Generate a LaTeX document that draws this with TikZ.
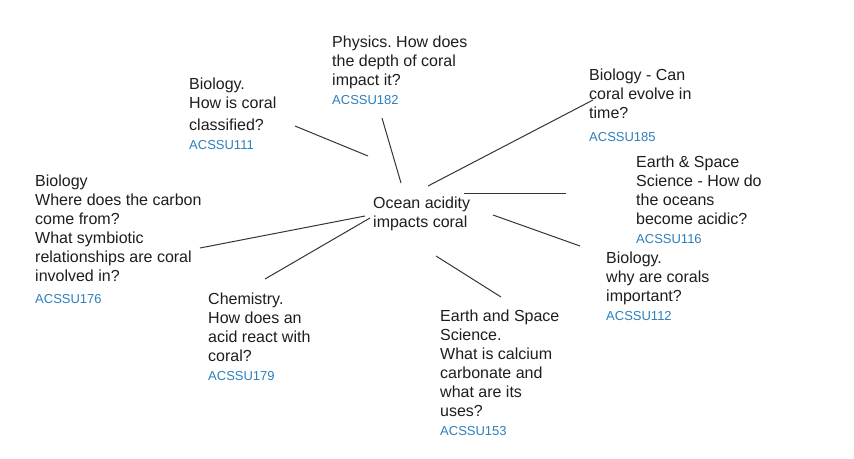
\documentclass[tikz,border=0pt]{standalone}
\usepackage{fontspec}
\setmainfont{Liberation Sans}
\usepackage{xcolor}
\usepackage{tikz}
\frenchspacing

\definecolor{txtgray}{RGB}{30,30,30}
\definecolor{codeblue}{RGB}{45,128,188}
\newcommand{\code}[1]{{\fontsize{13}{19}\selectfont\color{codeblue}#1}}

\begin{document}
\begin{tikzpicture}[x=1pt,y=-1pt,
	topic/.style={anchor=north west,inner sep=0pt,align=left,text=txtgray,font=\fontsize{16}{19}\selectfont},
	link/.style={draw=txtgray!90,line width=1pt}]
	\useasboundingbox[fill=white] (0,0) rectangle (854,458);
	
	\node[topic] (hub) at (373,197) {Ocean acidity\\impacts coral};
	
	\node[topic] (phys) at (332,36) {Physics. How does\\the depth of coral\\impact it?\\\code{ACSSU182}};
	\node[topic] (bioclass) at (189,78) {Biology.\\How is coral\\[3pt]classified?\\\code{ACSSU111}};
	\node[topic] (bioevolve) at (589,69) {Biology - Can\\coral evolve in\\time?\\[4pt]\code{ACSSU185}};
	\node[topic] (earthoceans) at (636,156) {Earth \& Space\\Science - How do\\the oceans\\become acidic?\\\code{ACSSU116}};
	\node[topic] (biowhy) at (606,252) {Biology.\\why are corals\\important?\\\code{ACSSU112}};
	\node[topic] (earthcalc) at (440,310) {Earth and Space\\Science.\\What is calcium\\carbonate and\\what are its\\uses?\\\code{ACSSU153}};
	\node[topic] (chem) at (208,293) {Chemistry.\\How does an\\acid react with\\coral?\\\code{ACSSU179}};
	\node[topic] (biocarbon) at (35,175) {Biology\\Where does the carbon\\come from?\\What symbiotic\\relationships are coral\\involved in?\\[3pt]\code{ACSSU176}};
	
	% line ends
	\coordinate (hub-bioclass) at (368,156);
	\coordinate (end-bioclass) at (295,126);
	\coordinate (hub-phys) at (401,183);
	\coordinate (end-phys) at (382,118);
	\coordinate (hub-bioevolve) at (428,186);
	\coordinate (end-bioevolve) at (593,100);
	\coordinate (hub-earthoceans) at (464,193);
	\coordinate (end-earthoceans) at (566,193);
	\coordinate (hub-biowhy) at (493,215);
	\coordinate (end-biowhy) at (580,246);
	\coordinate (hub-earthcalc) at (436,256);
	\coordinate (end-earthcalc) at (501,297);
	\coordinate (hub-chem) at (370,218);
	\coordinate (end-chem) at (265,279);
	\coordinate (hub-biocarbon) at (365,216);
	\coordinate (end-biocarbon) at (200,248);
	
	\draw[link] (hub-bioclass) -- (end-bioclass);
	\draw[link] (hub-phys) -- (end-phys);
	\draw[link] (hub-bioevolve) -- (end-bioevolve);
	\draw[link] (hub-earthoceans) -- (end-earthoceans);
	\draw[link] (hub-biowhy) -- (end-biowhy);
	\draw[link] (hub-earthcalc) -- (end-earthcalc);
	\draw[link] (hub-chem) -- (end-chem);
	\draw[link] (hub-biocarbon) -- (end-biocarbon);
\end{tikzpicture}
\end{document}
